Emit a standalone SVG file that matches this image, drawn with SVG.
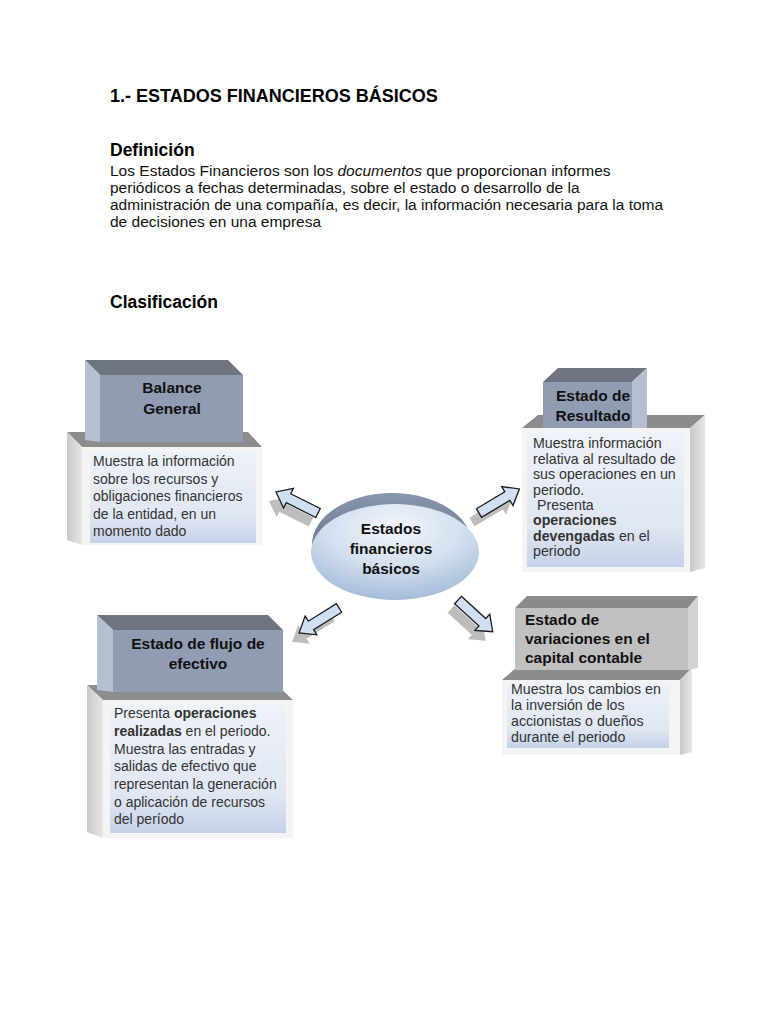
<svg xmlns="http://www.w3.org/2000/svg" width="768" height="1024" viewBox="0 0 768 1024">
<defs>
<style>
.h{font-family:"Liberation Sans",Arial,sans-serif;font-weight:bold;fill:#000}
.p{font-family:"Liberation Sans",Arial,sans-serif;font-size:15.5px;fill:#111}
.bt{font-family:"Liberation Sans",Arial,sans-serif;font-weight:bold;font-size:15.5px;fill:#111}
.tx{font-family:"Liberation Sans",Arial,sans-serif;font-size:14px;fill:#333}
.tx2{font-family:"Liberation Sans",Arial,sans-serif;font-size:14.2px;fill:#333}
.topdark{fill:#6f7580}
.frontblue{fill:#8f9cb1}
.sideblue{fill:#b4bfd0}
.topgray{fill:#8c8c8c}
.frontgray{fill:#c0c0c0}
.sidegray{fill:url(#gSide)}
.front{fill:#f4f4f4}
.panel{fill:url(#gPanel)}
.arr{fill:#cfe0f5;stroke:#1a1a1a;stroke-width:1.3;stroke-linejoin:miter}
.shd{fill:#bdbdbd}
</style>
<linearGradient id="gPanel" x1="0" y1="0" x2="0" y2="1">
<stop offset="0" stop-color="#eef2f9"/>
<stop offset="0.7" stop-color="#e0e7f3"/>
<stop offset="1" stop-color="#c4d2e8"/>
</linearGradient>
<linearGradient id="gSide" x1="0" y1="0" x2="1" y2="0">
<stop offset="0" stop-color="#c9c9c9"/>
<stop offset="1" stop-color="#e6e6e6"/>
</linearGradient>
<radialGradient id="gEll" cx="0.5" cy="0.25" r="0.8">
<stop offset="0" stop-color="#f3f6fb"/>
<stop offset="0.5" stop-color="#d3e0ef"/>
<stop offset="1" stop-color="#9db6d6"/>
</radialGradient>
<linearGradient id="gRim" x1="0" y1="0" x2="0" y2="1">
<stop offset="0" stop-color="#8797ad"/>
<stop offset="1" stop-color="#4e5d74"/>
</linearGradient>
<path id="ar" d="M0,-5 L33,-5 L33,-11 L47,0 L33,11 L33,5 L0,5 Z"/>
</defs>
<rect width="768" height="1024" fill="#fff"/>

<text class="h" x="110" y="102" font-size="18">1.- ESTADOS FINANCIEROS BÁSICOS</text>
<text class="h" x="110" y="156" font-size="17.5">Definición</text>
<text class="p" x="110" y="176">Los Estados Financieros son los <tspan font-style="italic">documentos</tspan> que proporcionan informes</text>
<text class="p" x="110" y="193">periódicos a fechas determinadas, sobre el estado o desarrollo de la</text>
<text class="p" x="110" y="210">administración de una compañía, es decir, la información necesaria para la toma</text>
<text class="p" x="110" y="227">de decisiones en una empresa</text>
<text class="h" x="110" y="308" font-size="17.5">Clasificación</text>

<g id="connectors">
<use href="#ar" class="shd" transform="translate(311,522) rotate(206.6)"/>
<use href="#ar" class="arr" transform="translate(318,513) rotate(206.6)"/>
<use href="#ar" class="shd" transform="translate(472,522) rotate(-30.8)"/>
<use href="#ar" class="arr" transform="translate(479,513) rotate(-30.8)"/>
<use href="#ar" class="shd" transform="translate(332,617) rotate(148.1)"/>
<use href="#ar" class="arr" transform="translate(339,608) rotate(148.1)"/>
<use href="#ar" class="shd" transform="translate(451,609) rotate(42.4)"/>
<use href="#ar" class="arr" transform="translate(458,600) rotate(42.4)"/>
</g>

<g id="center">
<ellipse cx="392" cy="545" rx="80" ry="52" fill="url(#gRim)"/>
<ellipse cx="395" cy="552" rx="84" ry="48" fill="url(#gEll)"/>
<text class="bt" x="391" y="534" text-anchor="middle">Estados</text>
<text class="bt" x="391" y="554" text-anchor="middle">financieros</text>
<text class="bt" x="391" y="574" text-anchor="middle">básicos</text>
</g>

<g id="balance">
<polygon class="topgray" points="67,432 248,432 262,447 82,447"/>
<polygon class="sidegray" points="67,432 82,447 82,545 67,540"/>
<rect class="front" x="82" y="447" width="180" height="98"/>
<rect class="panel" x="90" y="452" width="166" height="91"/>
<polygon class="topdark" points="85,360 228,360 243,375 100,375"/>
<polygon class="sideblue" points="85,360 100,375 100,442 85,440"/>
<rect class="frontblue" x="100" y="375" width="143" height="67"/>
<text class="bt" x="172" y="393" text-anchor="middle">Balance</text>
<text class="bt" x="172" y="414" text-anchor="middle">General</text>
<text class="tx" x="93" y="466">Muestra la información</text>
<text class="tx" x="93" y="483.5">sobre los recursos y</text>
<text class="tx" x="93" y="501">obligaciones financieros</text>
<text class="tx" x="93" y="518.5">de la entidad, en un</text>
<text class="tx" x="93" y="536">momento dado</text>
</g>

<g id="resultado">
<polygon class="topgray" points="538,415 705,415 690,428 522,428"/>
<polygon class="sidegray" points="690,428 705,415 705,568 690,572"/>
<rect class="front" x="522" y="428" width="168" height="144"/>
<rect class="panel" x="527" y="433" width="157" height="134"/>
<polygon class="topdark" points="558,368 647,368 632,382 543,382"/>
<polygon class="sideblue" points="632,382 647,368 647,428 632,428"/>
<rect class="frontblue" x="543" y="382" width="89" height="46"/>
<text class="bt" x="593" y="401" text-anchor="middle">Estado de</text>
<text class="bt" x="593" y="421" text-anchor="middle">Resultado</text>
<text class="tx2" x="533" y="448">Muestra información</text>
<text class="tx2" x="533" y="464">relativa al resultado de</text>
<text class="tx2" x="533" y="479">sus operaciones en un</text>
<text class="tx2" x="533" y="495">periodo.</text>
<text class="tx2" x="533" y="510" xml:space="preserve"> Presenta</text>
<text class="tx2" x="533" y="525" font-weight="bold">operaciones</text>
<text class="tx2" x="533" y="541"><tspan font-weight="bold">devengadas</tspan> en el</text>
<text class="tx2" x="533" y="556">periodo</text>
</g>

<g id="flujo">
<polygon class="topgray" points="87,685 277,685 293,700 103,700"/>
<polygon class="sidegray" points="87,685 103,700 103,838 87,832"/>
<rect class="front" x="103" y="700" width="190" height="138"/>
<rect class="panel" x="110" y="705" width="176" height="128"/>
<polygon class="topdark" points="97,615 268,615 283,630 113,630"/>
<polygon class="sideblue" points="97,615 113,630 113,692 97,690"/>
<rect class="frontblue" x="113" y="630" width="170" height="62"/>
<text class="bt" x="198" y="649" text-anchor="middle">Estado de flujo de</text>
<text class="bt" x="198" y="669" text-anchor="middle">efectivo</text>
<text class="tx" x="114" y="718">Presenta <tspan font-weight="bold">operaciones</tspan></text>
<text class="tx" x="114" y="736"><tspan font-weight="bold">realizadas</tspan> en el periodo.</text>
<text class="tx" x="114" y="754">Muestra las entradas y</text>
<text class="tx" x="114" y="771">salidas de efectivo que</text>
<text class="tx" x="114" y="789">representan la generación</text>
<text class="tx" x="114" y="807">o aplicación de recursos</text>
<text class="tx" x="114" y="824">del período</text>
</g>

<g id="variaciones">
<polygon class="topgray" points="516,668 692,668 680,680 502,680"/>
<polygon class="sidegray" points="680,680 692,668 692,752 680,755"/>
<rect class="front" x="502" y="680" width="178" height="75"/>
<rect class="panel" x="507" y="683" width="162" height="65"/>
<polygon fill="#8a8a8a" points="527,596 698,596 688,608 515,608"/>
<polygon fill="#d2d2d2" points="688,608 698,596 698,668 688,670"/>
<rect class="frontgray" x="515" y="608" width="173" height="62"/>
<text class="bt" x="525" y="625">Estado de</text>
<text class="bt" x="525" y="644">variaciones en el</text>
<text class="bt" x="525" y="663">capital contable</text>
<text class="tx2" x="511" y="694">Muestra los cambios en</text>
<text class="tx2" x="511" y="710">la inversión de los</text>
<text class="tx2" x="511" y="726">accionistas o dueños</text>
<text class="tx2" x="511" y="742">durante el periodo</text>
</g>
</svg>
